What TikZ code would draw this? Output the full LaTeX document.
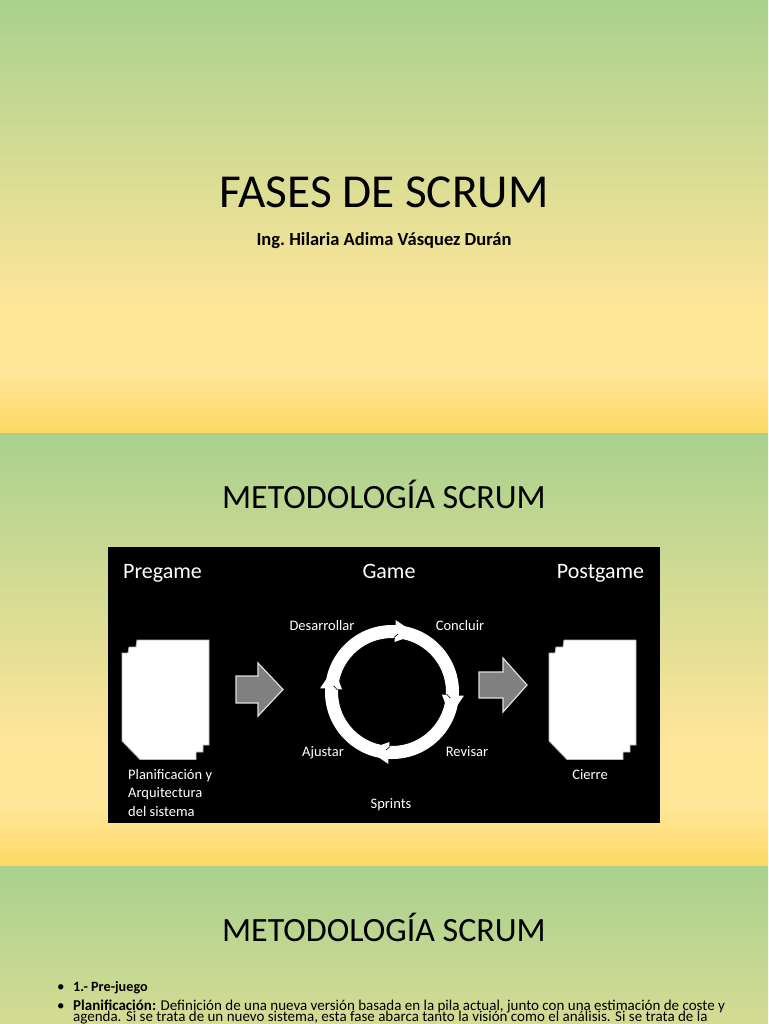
\documentclass[tikz,border=0pt]{standalone}
\usepackage{fontspec}
\setmainfont{Carlito}
\usetikzlibrary{calc}
\definecolor{sG}{RGB}{169,209,142}
\definecolor{sY1}{RGB}{255,230,153}
\definecolor{sY2}{RGB}{255,217,102}
\definecolor{arrowgray}{RGB}{128,128,128}
\pgfdeclareverticalshading{slidebg}{100bp}{color(0bp)=(sY2); color(25bp)=(sY2); color(32bp)=(sY1); color(39bp)=(sY1); color(75bp)=(sG); color(100bp)=(sG)}
\tikzset{
  slide/.style={shading=slidebg},
  titletext/.style={anchor=base, inner sep=0pt, text=black},
  lbl/.style={anchor=base, inner sep=0pt, text=white, font=\fontsize{14.5}{18.5}\selectfont},
  phase/.style={anchor=base, inner sep=0pt, text=white, font=\fontsize{22}{26}\selectfont},
  docshape/.style={fill=white, draw=gray!55, line width=0.8pt},
  blockarrow/.style={fill=arrowgray, draw=gray!25, line width=1.2pt, line join=miter},
  bodytext/.style={anchor=base west, inner sep=0pt, text=black, font=\fontsize{15}{10.5}\selectfont},
}
\begin{document}
\begin{tikzpicture}[x=1pt,y=-1pt]
\useasboundingbox (0,0) rectangle (768,1024);
\clip (0,0) rectangle (768,1024);
\fill[white!92!yellow] (0,0) rectangle (768,1024);
% slides
\shade[slide] (0,0) rectangle (768,432);
\shade[slide] (0,433.5) rectangle (768,865);
\shade[slide] (0,866.5) rectangle (768,1298);

% slide 1
\node[titletext, font=\fontsize{47.3}{55}\selectfont] (t1) at (384,208) {FASES DE SCRUM};
\node[titletext, font=\fontsize{18.5}{22}\selectfont\bfseries] (sub) at (384,245) {Ing.\ Hilaria Adima Vásquez Durán};

% slide 2
\node[titletext, font=\fontsize{34}{40}\selectfont] (t2) at (384,508) {METODOLOGÍA SCRUM};
\fill[black] (108,547) rectangle (660,823);
\node[phase] (pre) at (162.5,578) {Pregame};
\node[phase] (game) at (389,578) {Game};
\node[phase] (post) at (600.5,578) {Postgame};

% documents
\foreach \dx/\nm in {0/docA,427/docB}{
  \begin{scope}[xshift=\dx pt]
    \draw[docshape] (137,640) -- (209,640) -- (209,745) -- (203,745) -- (203,752) -- (196,752) -- (196,759.5) -- (140,759.5) -- (122,741) -- (122,653) -- (128,653) -- (129,647) -- (136,647) -- cycle;
    \coordinate (\nm) at (165,700);
  \end{scope}
}

% block arrows
\draw[blockarrow] (236,676) -- (258,676) -- (258,663) -- (283,689.5) -- (258,716) -- (258,703) -- (236,703) -- cycle;
\draw[blockarrow] (479,672) -- (503,672) -- (503,658) -- (527,685) -- (503,712) -- (503,698) -- (479,698) -- cycle;

% cycle ring
\coordinate (ring) at (392,692);
\fill[white, even odd rule] (ring) circle[radius=67] (ring) circle[radius=54];
\foreach \b in {-87,3,93,183}{
  \fill[white] ($(ring)+(\b:72)$) -- ($(ring)+(\b+10:66)$) -- ($(ring)+(\b:60)$) -- cycle;
  \fill[white] ($(ring)+(\b:50)$) -- ($(ring)+(\b+10:55)$) -- ($(ring)+(\b:61)$) -- cycle;
  \draw[black, line width=0.6pt] ($(ring)+(\b-1:54.5)$) -- ($(ring)+(\b+3:58.5)$);
}

% labels
\node[lbl] (des) at (322,630) {Desarrollar};
\node[lbl] (con) at (460,630) {Concluir};
\node[lbl] (aju) at (323,756) {Ajustar};
\node[lbl] (rev) at (467,756) {Revisar};
\node[lbl] (spr) at (391,808) {Sprints};
\node[lbl, anchor=base west] (plan1) at (128,779) {Planificación y};
\node[lbl, anchor=base west] (plan2) at (128,797.5) {Arquitectura};
\node[lbl, anchor=base west] (plan3) at (128,816) {del sistema};
\node[lbl] (cie) at (590,779) {Cierre};

% slide 3
\node[titletext, font=\fontsize{34}{40}\selectfont] (t3) at (384,941) {METODOLOGÍA SCRUM};
\node[bodytext] (b1) at (57,991) {•};
\node[bodytext, font=\fontsize{14.2}{10.5}\selectfont] (l1) at (73,991) {\textbf{1.- Pre-juego}};
\node[bodytext] (b2) at (57,1010.5) {•};
\node[bodytext] (l2) at (73,1010.5) {\textbf{Planificación:} Definición de una nueva versión basada en la pila actual, junto con una estimación de coste y};
\node[bodytext] (l3) at (73,1021.5) {agenda. Si se trata de un nuevo sistema, esta fase abarca tanto la visión como el análisis. Si se trata de la};
\end{tikzpicture}
\end{document}
